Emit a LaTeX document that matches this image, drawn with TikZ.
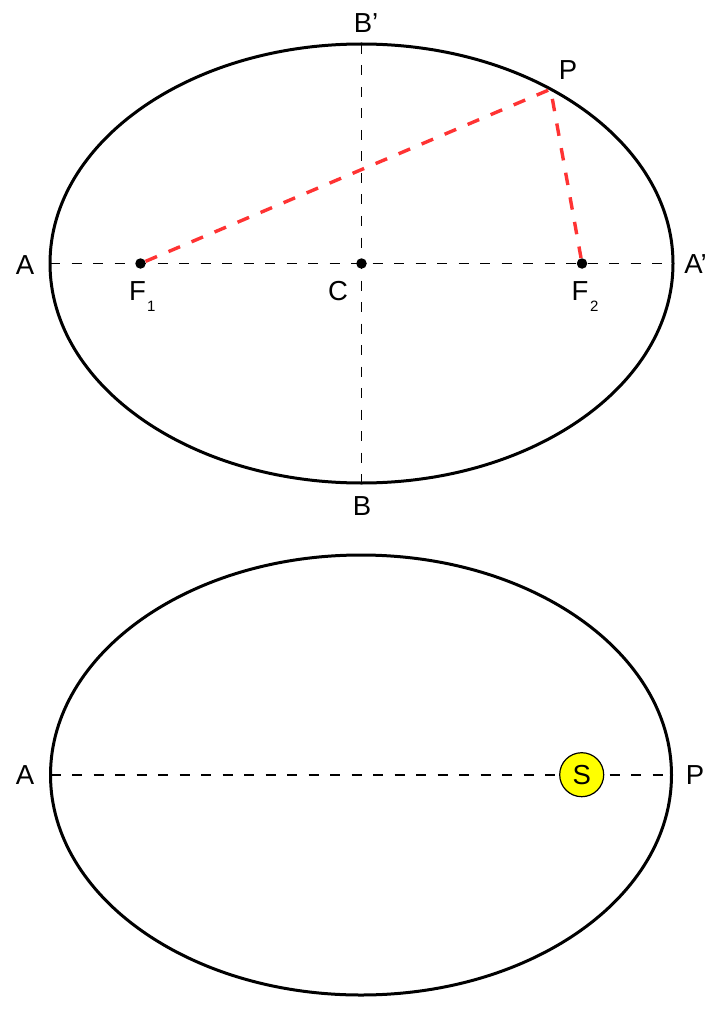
\documentclass[tikz,border=0pt]{standalone}
\usepackage{fontspec}
\setmainfont{Liberation Sans}
\definecolor{redline}{HTML}{FF3333}
\definecolor{sunfill}{HTML}{FFFF00}
\begin{document}
\begin{tikzpicture}[x=1pt,y=-1pt,
  orbit/.style={line width=3pt},
  axisline/.style={line width=1.7pt, dash pattern=on 10pt off 11.5pt},
  radiusline/.style={line width=3.4pt, draw=redline, dash pattern=on 12.5pt off 12.5pt},
  lbl/.style={font=\fontsize{27.5}{32}\selectfont, inner sep=0pt},
  sub/.style={font=\fontsize{15}{18}\selectfont, inner sep=0pt},
  focusdot/.style={circle, fill=black, inner sep=0pt, minimum size=10.5pt},
  sun/.style={circle, draw=black, line width=1.2pt, fill=sunfill, inner sep=0pt, minimum size=44pt, font=\fontsize{27.5}{32}\selectfont}]
\useasboundingbox (0,0) rectangle (720,1024);
% ---------- top ellipse ----------
\coordinate (C0) at (361.5,263.5);
\draw[orbit] (C0) ellipse [x radius=311.5pt, y radius=219.5pt];
\coordinate (Aend) at (50,263.5);
\coordinate (Apend) at (673,263.5);
\coordinate (Bpend) at (361.5,44);
\coordinate (Bend) at (361.5,483);
\draw[axisline] (Aend) -- (Apend);
\draw[axisline] (Bpend) -- (Bend);
\node[focusdot] (F1) at (140.5,263.5) {};
\node[focusdot] (F2) at (582,263.5) {};
\node[focusdot] (Cdot) at (C0) {};
\coordinate (P) at (550.6,89.2);
\draw[radiusline] (F1) -- (P) -- (F2);
% labels
\node[lbl] (lA) at (25,265) {A};
\node[lbl] (lAp) at (695.5,264) {A’};
\node[lbl] (lBp) at (366,23) {B’};
\node[lbl] (lB) at (362,506.5) {B};
\node[lbl] (lC) at (338,291) {C};
\node[lbl] (lP) at (568,70.5) {P};
\node[lbl, anchor=base west] (lF1) at (129,300.5) {F};
\node[sub, anchor=base west] (lF1s) at (147,311.5) {1};
\node[lbl, anchor=base west] (lF2) at (571.5,300) {F};
\node[sub, anchor=base west] (lF2s) at (590,311) {2};
% ---------- bottom ellipse ----------
\coordinate (C1) at (361,775);
\draw[orbit] (C1) ellipse [x radius=310.5pt, y radius=220pt];
\coordinate (A2end) at (50.5,775);
\coordinate (P2end) at (671.5,775);
\draw[axisline] (A2end) -- (P2end);
\node[sun] (S) at (581.7,774.7) {S};
\node[lbl] (lA2) at (25,775) {A};
\node[lbl] (lP2) at (695,775) {P};
\end{tikzpicture}
\end{document}
